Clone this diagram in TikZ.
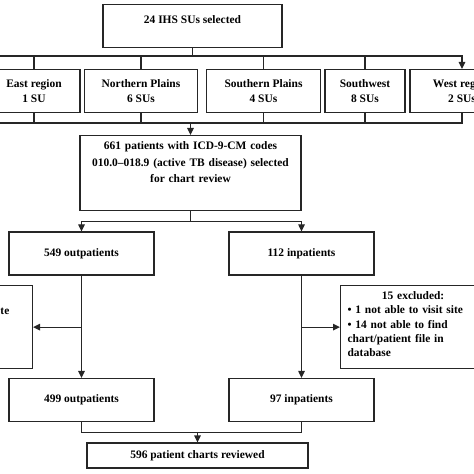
\documentclass[tikz,border=0pt]{standalone}
\usepackage{fontspec}
\setmainfont{Liberation Serif}
\usetikzlibrary{arrows.meta}

\begin{document}
\begin{tikzpicture}[x=1bp,y=-1bp]
\tikzstyle{every node}+=[font=\fontsize{11.5}{16}\selectfont\bfseries, inner sep=0pt]
\tikzstyle{box}=[draw=black!85, line width=1.2bp, minimum width=145bp, minimum height=43bp, align=center]
\tikzstyle{link}=[draw=black!85, line width=1.2bp]
\tikzstyle{arr}=[link, -{Triangle[length=7bp,width=6.5bp]}]
\useasboundingbox (0,0) rectangle (474,474);
\clip (0,0) rectangle (474,474);
\coordinate (busA) at (-3,56);
\coordinate (busB) at (-3,123);
\node [box, anchor=north, minimum width=179bp, text height=17bp, text depth=23bp] (top) at (192.5,4) {24 IHS SUs selected};
\node [box, anchor=north, minimum width=92bp] (east) at (34,69) {East region\\1 SU};
\node [box, anchor=north, minimum width=113bp] (np) at (141,69) {Northern Plains\\6 SUs};
\node [box, anchor=north, minimum width=114bp] (sp) at (263.5,69) {Southern Plains\\4 SUs};
\node [box, anchor=north, minimum width=80bp] (sw) at (365,69) {Southwest\\8 SUs};
\node [box, anchor=north, minimum width=104bp] (west) at (462,69) {West region\\2 SUs};
\node [box, anchor=north, text width=221bp, text height=14bp, text depth=61bp, font=\fontsize{11.5}{16.5}\selectfont\bfseries] (p661) at (190.5,135) {661 patients with ICD-9-CM codes\\010.0--018.9 (active TB disease) selected\\for chart review};
\node [box] (out549) at (81.5,253.5) {549 outpatients};
\node [box] (in112) at (301.5,253.5) {112 inpatients};
\node [box, anchor=north east, align=right, text width=99bp, inner xsep=23bp, text height=29bp, text depth=54bp] (exclL) at (33,285) {te};
\node [box, anchor=north west, align=left, text width=131bp, inner xsep=7bp, text height=14bp, text depth=69bp, font=\fontsize{11.5}{14.3}\selectfont\bfseries] (exclR) at (340,285) {\makebox[\linewidth]{15 excluded:}\\• 1 not able to visit site\\• 14 not able to find\\chart/patient file in\\database};
\node [box] (out499) at (81.5,400) {499 outpatients};
\node [box] (in97) at (301.5,400) {97 inpatients};
\node [box, minimum width=221bp, minimum height=25bp] (charts) at (197.5,455.5) {596 patient charts reviewed};
\draw [link] (top.south) -- (top.south |- busA);
\draw [link] (busA) -| (east.north);
\draw [link] (busA) -| (np.north);
\draw [link] (busA) -| (sp.north);
\draw [link] (busA) -| (sw.north);
\draw [arr] (busA) -| (west.north);
\draw [link] (east.south) |- (busB);
\draw [link] (np.south) |- (busB);
\draw [link] (sp.south) |- (busB);
\draw [link] (sw.south) |- (busB);
\draw [link] (west.south) |- (busB);
\draw [arr] (p661.north |- busB) -- (p661.north);
\draw [link] (p661.south) -- ++(0,10) coordinate (split);
\draw [arr] (split) -| (out549.north);
\draw [arr] (split) -| (in112.north);
\draw [arr] (out549.south) -- (out499.north);
\draw [arr] (in112.south) -- (in97.north);
\draw [arr] (out549.south |- exclL.east) -- (exclL.east);
\draw [arr] (in112.south |- exclR.west) -- (exclR.west);
\draw [link] (out499.south) -- ++(0,10) coordinate (join) -| (in97.south);
\draw [arr] (join -| charts.north) -- (charts.north);
\end{tikzpicture}
\end{document}
